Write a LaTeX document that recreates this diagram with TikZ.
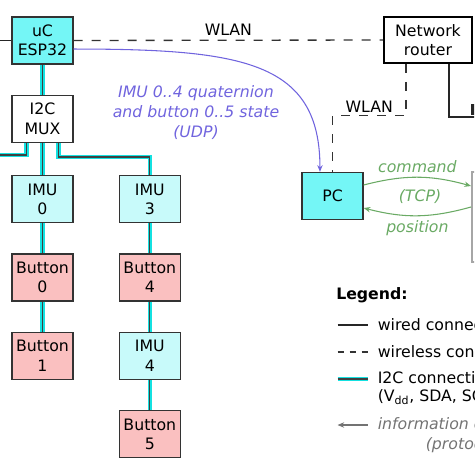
\documentclass[tikz,border=0pt]{standalone}
\usepackage{fontspec}
\setmainfont{DejaVu Sans}
\usetikzlibrary{positioning,arrows.meta,calc}
\definecolor{mcucyan}{RGB}{116,246,246}
\definecolor{imucyan}{RGB}{200,250,250}
\definecolor{btnpink}{RGB}{250,192,192}
\definecolor{udpblue}{RGB}{112,100,222}
\definecolor{tcpgreen}{RGB}{106,170,100}
\definecolor{i2ccyan}{RGB}{20,225,225}
\tikzset{
  box/.style={draw=black!80,line width=1pt,minimum width=45.75pt,minimum height=35.25pt,inner sep=1pt,align=center},
  mcu/.style={box,fill=mcucyan},
  imu/.style={box,fill=imucyan},
  btn/.style={box,fill=btnpink},
  wired/.style={draw=black!85,line width=1pt},
  wireless/.style={draw=black!80,line width=1pt,dash pattern=on 6.75pt off 6.75pt},
  i2c/.style={draw=black!75,line width=0.9pt,preaction={draw=i2ccyan,line width=3.4pt}},
  udp/.style={draw=udpblue,line width=0.8pt,-{Stealth[length=5pt,width=4pt]}},
  tcp/.style={draw=tcpgreen,line width=0.8pt,-{Stealth[length=5pt,width=4pt]}},
  info/.style={draw=black!55,line width=0.8pt,-{Stealth[length=5pt,width=4pt]}},
  note/.style={font=\fontsize{11.8}{15}\selectfont\itshape,align=center},
  legtext/.style={anchor=west,inner sep=0pt}
}
\begin{document}
\begin{tikzpicture}[x=0.75pt,y=0.75pt,every node/.style={font=\fontsize{11.8}{14.6}\selectfont}]
  \useasboundingbox (0,0) rectangle (474,-474);
  \clip (0,0) rectangle (474,-474);

  % Controller and sensor chains
  \node[mcu] (uc) at (42.5,-40.5) {uC\\ESP32};
  \node[box, below=22.5pt of uc] (mux) {I2C\\MUX};
  \node[imu, below=24pt of mux] (imu0) {IMU\\0};
  \node[btn, below=22.5pt of imu0] (btn0) {Button\\0};
  \node[btn, below=22.5pt of btn0] (btn1) {Button\\1};
  \node[imu, right=33.75pt of imu0] (imu3) {IMU\\3};
  \node[btn, below=22.5pt of imu3] (btn4) {Button\\4};
  \node[imu, below=22.5pt of btn4] (imu4) {IMU\\4};
  \node[btn, below=22.5pt of imu4] (btn5) {Button\\5};

  % Network side
  \node[mcu] (pc) at (332.5,-196) {PC};
  \node[box, draw=black, line width=1.3pt, minimum width=66pt, minimum height=34.5pt] (router) at (428,-40) {Network\\router};
  \node[draw=black!35, line width=1.5pt, minimum width=75pt, minimum height=67.5pt] (robot) at (522,-217) {};
  \coordinate (wiredin) at (-10,-40.5);
  \coordinate (wiredout) at (490,-117);
  \coordinate (i2cout) at (-10,-155);
  \fill[black!85] (470.5,-104) rectangle (480,-115);

  % Wired and wireless links
  \draw[wired] (uc.west) -- (wiredin);
  \draw[wireless] (uc.east) -- node[above]{WLAN} (router.west);
  \draw[wireless] ([xshift=-16.5pt]router.south) |- node[pos=0.75,above=-1pt]{WLAN} ($(pc.north)+(0,56)$) -- (pc.north);
  \draw[wired] ([xshift=15.75pt]router.south) |- (wiredout);

  % I2C bus
  \draw[i2c] (uc) -- (mux);
  \draw[i2c] ([xshift=-12pt]mux.south) |- (i2cout);
  \draw[i2c] (mux) -- (imu0);
  \draw[i2c] ([xshift=12pt]mux.south) -- ++(0,-14) -| (imu3.north);
  \draw[i2c] (imu0) -- (btn0) -- (btn1);
  \draw[i2c] (imu3) -- (btn4) -- (imu4) -- (btn5);

  % UDP stream to the PC
  \draw[udp] ([yshift=-6.4pt]uc.east) .. controls +(170,0) and +(0,110) .. ([xshift=-9.4pt]pc.north);
  \node[note, text=udpblue] (udplabel) at (196,-113) {IMU 0..4 quaternion\\and button 0..5 state\\(UDP)};

  % TCP link
  \draw[tcp] ([yshift=8.25pt]pc.east) to[bend left=15] node[above, note, text=tcpgreen]{command} ([yshift=23.25pt]robot.west);
  \draw[tcp] ([yshift=7.5pt]robot.west) to[bend left=15] node[below, note, text=tcpgreen]{position} ([yshift=-9pt]pc.east);
  \node[note, text=tcpgreen] (tcplabel) at (420,-197) {(TCP)};

  % Legend
  \node[legtext, font=\fontsize{11.8}{14.6}\selectfont\bfseries] (legend) at (336,-295) {Legend:};
  \node[legtext] (wiredtxt) at (377.5,-325) {wired connection};
  \node[legtext] (wirelesstxt) at (377.5,-352) {wireless connection};
  \node[legtext, align=left, font=\fontsize{11.8}{13.5}\selectfont] (i2ctxt) at (377.5,-388) {I2C connection\\(V\textsubscript{dd}, SDA, SCL, GND)};
  \node[legtext, note, text=black!55] (infotxt) at (377.5,-435) {information exchange\\(protocol)};
  \draw[wired] ([xshift=-30pt]wiredtxt.west) -- ([xshift=-7.5pt]wiredtxt.west);
  \draw[wireless, dash pattern=on 5pt off 4pt] ([xshift=-30pt]wirelesstxt.west) -- ([xshift=-7.5pt]wirelesstxt.west);
  \draw[i2c] ([xshift=-30pt,yshift=6.75pt]i2ctxt.west) -- ([xshift=-7.5pt,yshift=6.75pt]i2ctxt.west);
  \draw[info] ([xshift=-7.5pt,yshift=7.5pt]infotxt.west) -- ([xshift=-30pt,yshift=7.5pt]infotxt.west);
\end{tikzpicture}
\end{document}
